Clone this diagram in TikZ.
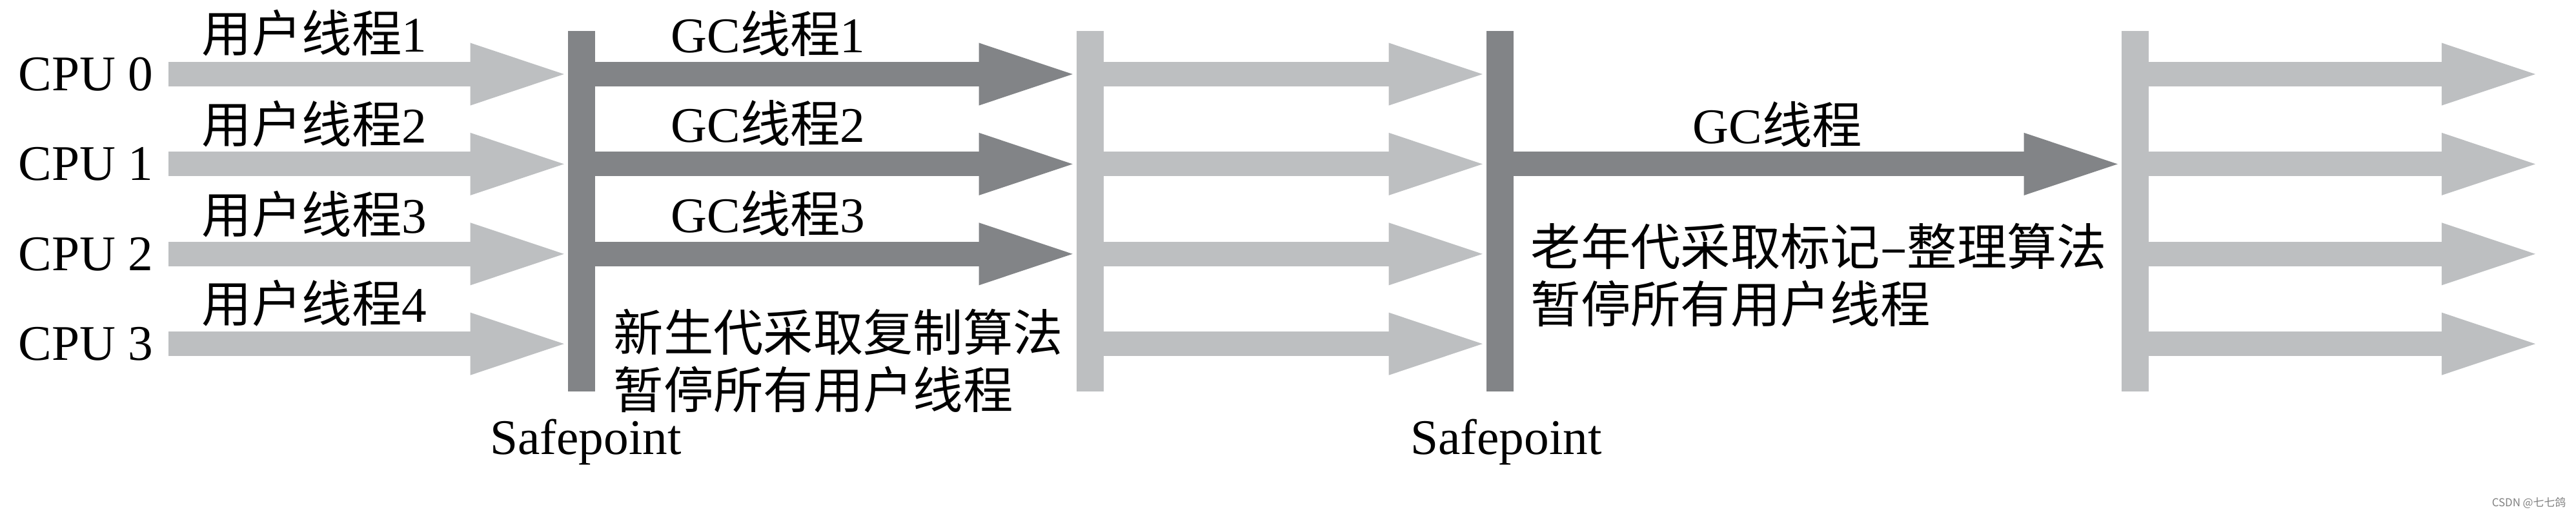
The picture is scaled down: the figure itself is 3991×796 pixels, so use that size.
\documentclass[tikz,border=0pt]{standalone}
\usepackage{fontspec}
\setmainfont{Liberation Serif}
\newfontfamily\cjk{Noto Sans CJK SC}
\usepackage{tikz}
\usetikzlibrary{arrows.meta,positioning}
\definecolor{ltgray}{RGB}{189,191,193}
\definecolor{dkgray}{RGB}{130,132,135}

\begin{document}
\begin{tikzpicture}[x=0.01cm,y=-0.01cm,>={Triangle[length=1.45cm,width=0.97cm,line width=0pt]},node distance=1.393cm,on grid]
\tikzstyle{spbar} = [rectangle,inner sep=0pt,minimum width=0.42cm,minimum height=5.59cm]
\tikzstyle{cpu} = [inner ysep=0pt,inner xsep=0.23cm,font=\fontsize{22}{26}\selectfont]
\tikzstyle{lbl} = [inner sep=0pt,font=\fontsize{22}{26}\selectfont]
\tikzstyle{txt} = [inner sep=0pt,align=left,anchor=north west,font=\cjk\fontsize{22}{25.5}\selectfont]
    \useasboundingbox (0,0) rectangle (3991,796);
    \node[cpu,anchor=east] (cpu0) at (261,115) {CPU 0};
    \node[cpu] (cpu1) [below =of cpu0] {CPU 1};
    \node[cpu] (cpu2) [below =of cpu1] {CPU 2};
    \node[cpu] (cpu3) [below =of cpu2] {CPU 3};

    \node[spbar,fill=dkgray] (sp1) at (900.5,327.5) {};
    \node[spbar,fill=ltgray] (sp2) at (1688.5,327.5) {};
    \node[spbar,fill=dkgray] (sp3) at (2323.5,327.5) {};
    \node[spbar,fill=ltgray] (sp4) at (3307.5,327.5) {};
    \coordinate (tipx) at (3928,0);

    \node[lbl] (u0) at (487,51) {{\cjk 用户线程}1};
    \node[lbl] (u1) at (487,192) {{\cjk 用户线程}2};
    \node[lbl] (u2) at (487,332) {{\cjk 用户线程}3};
    \node[lbl] (u3) at (487,470) {{\cjk 用户线程}4};
    \node[lbl] (gc0) at (1190,52) {GC{\cjk 线程}1};
    \node[lbl] (gc1) at (1190,191) {GC{\cjk 线程}2};
    \node[lbl] (gc2) at (1190,331) {GC{\cjk 线程}3};
    \node[lbl] (gc) at (2754,193) {GC{\cjk 线程}};
    \node[txt] (young) at (950,478) {新生代采取复制算法\\暂停所有用户线程};
    \node[txt] (old) at (2371,345) {老年代采取标记–整理算法\\暂停所有用户线程};
    \node[lbl,anchor=base] (sp1l) at ([shift={(7,97)}]sp1.south) {Safepoint};
    \node[lbl,anchor=base] (sp3l) at ([shift={(10,97)}]sp3.south) {Safepoint};
    \node[inner sep=0pt,anchor=south east,text=gray,font=\cjk\fontsize{4.8}{5}\selectfont] (wm) at (3976,789) {CSDN @七七鸽};

    \tikzset{ua/.style={->,line width=0.38cm,draw=ltgray,shorten >=0.05cm}}
    \tikzset{ga/.style={->,line width=0.38cm,draw=dkgray,shorten >=0.05cm}}
    \draw (cpu0) edge [ua] (sp1.west |- cpu0);
    \draw (cpu1) edge [ua] (sp1.west |- cpu1);
    \draw (cpu2) edge [ua] (sp1.west |- cpu2);
    \draw (cpu3) edge [ua] (sp1.west |- cpu3);
    \draw (sp1.east |- cpu0) edge [ga] (sp2.west |- cpu0);
    \draw (sp1.east |- cpu1) edge [ga] (sp2.west |- cpu1);
    \draw (sp1.east |- cpu2) edge [ga] (sp2.west |- cpu2);
    \draw (sp2.east |- cpu0) edge [ua] (sp3.west |- cpu0);
    \draw (sp2.east |- cpu1) edge [ua] (sp3.west |- cpu1);
    \draw (sp2.east |- cpu2) edge [ua] (sp3.west |- cpu2);
    \draw (sp2.east |- cpu3) edge [ua] (sp3.west |- cpu3);
    \draw (sp3.east |- cpu1) edge [ga] (sp4.west |- cpu1);
    \draw (sp4.east |- cpu0) edge [ua,shorten >=0pt] (tipx |- cpu0);
    \draw (sp4.east |- cpu1) edge [ua,shorten >=0pt] (tipx |- cpu1);
    \draw (sp4.east |- cpu2) edge [ua,shorten >=0pt] (tipx |- cpu2);
    \draw (sp4.east |- cpu3) edge [ua,shorten >=0pt] (tipx |- cpu3);
\end{tikzpicture}
\end{document}
